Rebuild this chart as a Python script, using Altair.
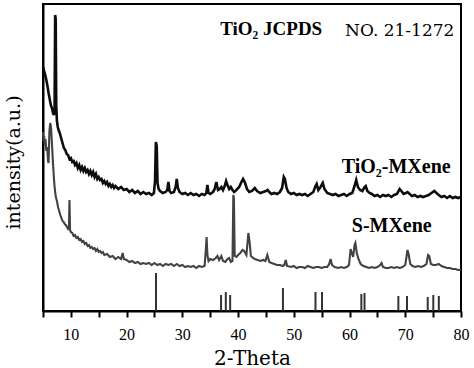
import altair as alt
import pandas as pd

# XRD patterns: (2-theta in degrees, intensity in a.u.)
tio2_mxene = [
    (5.0, 244), (5.2, 240), (5.4, 236), (5.6, 231), (5.8, 225), (6.0, 218), (6.2, 212),
    (6.4, 206), (6.6, 203), (6.8, 198), (6.95, 196), (7.08, 203), (7.18, 296), (7.28, 292),
    (7.38, 205), (7.5, 190), (7.65, 184), (7.8, 181), (8.0, 178), (8.25, 173), (8.5, 168),
    (8.75, 163), (9.0, 161), (9.25, 157), (9.5, 156), (9.75, 152), (10.0, 153), (10.25, 149),
    (10.5, 150), (10.75, 146), (11.0, 148), (11.25, 143), (11.5, 146), (11.75, 141),
    (12.0, 144), (12.25, 140), (12.5, 143), (12.75, 139), (13.0, 141), (13.25, 137),
    (13.5, 140), (13.75, 136), (14.0, 139), (14.25, 134), (14.5, 137), (14.75, 132),
    (15.0, 134), (15.25, 131), (15.5, 132), (15.75, 128), (16.0, 130), (16.25, 127),
    (16.5, 129), (16.75, 125), (17.0, 127), (17.25, 124), (17.5, 126), (17.75, 123),
    (18.0, 125), (18.5, 122), (19.0, 124), (19.5, 121), (20.0, 122), (20.5, 119),
    (21.0, 121), (21.5, 118), (22.0, 120), (22.5, 117), (23.0, 119), (23.5, 117),
    (24.0, 118), (24.5, 116), (24.9, 118), (25.1, 130), (25.25, 169), (25.4, 165),
    (25.55, 128), (25.75, 122), (26.0, 120), (26.5, 118), (27.0, 119), (27.3, 121),
    (27.5, 129), (27.7, 120), (28.0, 118), (28.5, 119), (28.8, 124), (29.0, 132),
    (29.2, 123), (29.5, 119), (30.0, 117), (30.5, 118), (31.0, 116), (31.5, 118),
    (32.0, 116), (32.5, 117), (33.0, 115), (33.5, 117), (34.0, 116), (34.3, 118),
    (34.5, 126), (34.7, 118), (35.0, 117), (35.5, 119), (35.8, 122), (36.1, 129),
    (36.4, 121), (36.7, 122), (37.0, 124), (37.3, 121), (37.6, 125), (37.85, 130),
    (38.1, 126), (38.4, 122), (38.7, 124), (39.0, 121), (39.3, 119), (39.7, 121),
    (40.2, 124), (40.6, 129), (40.9, 132), (41.2, 129), (41.6, 122), (42.0, 119),
    (42.5, 120), (43.0, 123), (43.4, 120), (44.0, 118), (44.5, 119), (45.0, 120),
    (45.3, 121), (45.6, 119), (46.0, 117), (46.5, 118), (47.0, 117), (47.5, 119),
    (47.9, 123), (48.2, 134), (48.4, 132), (48.7, 123), (49.0, 119), (49.5, 117),
    (50.0, 118), (50.5, 116), (51.0, 117), (51.5, 116), (52.0, 117), (52.5, 115),
    (53.0, 117), (53.5, 119), (53.9, 125), (54.1, 127), (54.4, 121), (54.8, 124),
    (55.2, 128), (55.5, 122), (56.0, 118), (56.5, 117), (57.0, 116), (57.5, 117),
    (58.0, 115), (58.5, 116), (59.0, 117), (59.5, 115), (60.0, 117), (60.5, 118),
    (60.9, 125), (61.2, 131), (61.5, 124), (61.9, 121), (62.3, 120), (62.7, 124),
    (62.9, 125), (63.2, 120), (63.6, 118), (64.0, 117), (64.5, 115), (65.0, 116),
    (65.5, 114), (66.0, 116), (66.5, 115), (67.0, 116), (67.5, 114), (68.0, 116),
    (68.5, 117), (69.0, 122), (69.3, 120), (69.7, 117), (70.1, 118), (70.4, 119),
    (70.8, 117), (71.2, 115), (71.7, 116), (72.2, 114), (72.7, 115), (73.2, 114),
    (73.7, 115), (74.2, 116), (74.7, 118), (75.2, 120), (75.6, 118), (76.0, 116),
    (76.5, 114), (77.0, 115), (77.5, 113), (78.0, 115), (78.5, 113), (79.0, 114),
    (79.5, 113), (80.0, 114),
]

s_mxene = [
    (5.0, 179), (5.1, 170), (5.2, 175), (5.3, 166), (5.45, 172), (5.6, 160), (5.75, 164),
    (5.9, 150), (6.0, 148), (6.15, 180), (6.3, 188), (6.45, 183), (6.6, 168), (6.75, 152),
    (6.9, 138), (7.05, 126), (7.2, 118), (7.35, 113), (7.5, 110), (7.7, 104), (7.9, 100),
    (8.1, 96), (8.3, 93), (8.5, 90), (8.7, 89), (8.9, 87), (9.1, 86), (9.3, 84), (9.5, 82),
    (9.65, 83), (9.75, 111), (9.85, 81), (10.0, 79), (10.25, 78), (10.5, 75), (10.75, 76),
    (11.0, 73), (11.25, 74), (11.5, 71), (11.75, 72), (12.0, 69), (12.25, 70), (12.5, 67),
    (12.75, 68), (13.0, 65), (13.25, 66), (13.5, 63), (13.75, 64), (14.0, 62), (14.25, 63),
    (14.5, 60), (14.75, 62), (15.0, 59), (15.25, 60), (15.5, 58), (15.75, 59), (16.0, 56),
    (16.5, 57), (17.0, 54), (17.5, 55), (18.0, 52), (18.5, 54), (19.0, 52), (19.3, 58),
    (19.5, 52), (20.0, 51), (20.5, 49), (21.0, 50), (21.5, 48), (22.0, 49), (22.5, 47),
    (23.0, 48), (23.5, 47), (24.0, 48), (24.5, 46), (25.0, 48), (25.5, 46), (26.0, 47),
    (26.5, 45), (27.0, 47), (27.5, 46), (28.0, 47), (28.5, 45), (29.0, 47), (29.5, 45),
    (30.0, 46), (30.5, 44), (31.0, 45), (31.5, 44), (32.0, 45), (32.5, 43), (33.0, 45),
    (33.5, 44), (34.0, 45), (34.2, 60), (34.35, 74), (34.5, 56), (34.7, 50), (35.0, 52),
    (35.5, 51), (36.0, 53), (36.3, 55), (36.6, 51), (37.0, 55), (37.3, 50), (37.7, 49),
    (38.1, 52), (38.4, 53), (38.7, 49), (39.0, 50), (39.15, 116), (39.25, 113), (39.4, 55),
    (39.7, 54), (40.0, 56), (40.4, 58), (40.8, 61), (41.1, 60), (41.5, 56), (41.85, 78),
    (42.05, 70), (42.3, 55), (42.7, 53), (43.0, 52), (43.5, 51), (44.0, 50), (44.5, 51),
    (44.9, 50), (45.25, 56), (45.6, 49), (46.0, 48), (46.5, 47), (47.0, 46), (47.5, 46),
    (48.0, 45), (48.3, 46), (48.55, 51), (48.8, 45), (49.5, 44), (50.0, 45), (50.5, 43),
    (51.0, 44), (51.5, 44), (52.0, 43), (52.5, 45), (53.0, 44), (53.5, 43), (54.0, 44),
    (54.5, 44), (55.0, 43), (55.5, 44), (56.0, 44), (56.35, 47), (56.6, 52), (56.85, 46),
    (57.3, 44), (58.0, 43), (58.5, 44), (59.0, 43), (59.5, 44), (59.9, 46), (60.2, 62),
    (60.4, 58), (60.65, 54), (60.9, 66), (61.05, 68), (61.3, 58), (61.6, 52), (62.0, 47),
    (62.5, 45), (63.0, 44), (63.5, 43), (64.0, 44), (64.5, 43), (65.0, 44), (65.5, 46),
    (65.75, 48), (66.0, 44), (66.5, 43), (67.0, 43), (67.5, 44), (68.0, 43), (68.5, 44),
    (69.0, 43), (69.5, 44), (70.0, 46), (70.4, 61), (70.6, 57), (70.9, 47), (71.3, 45),
    (71.8, 44), (72.3, 45), (72.8, 44), (73.3, 45), (73.8, 47), (74.1, 56), (74.3, 55),
    (74.6, 47), (75.0, 46), (75.5, 46), (76.0, 47), (76.5, 45), (77.0, 44), (77.5, 43),
    (78.0, 43), (78.5, 42), (79.0, 42), (79.5, 41), (80.0, 41),
]

# Anatase TiO2 reference lines (JCPDS No. 21-1272)
jcpds_theta = [25.28, 36.95, 37.80, 38.58, 48.05, 53.89, 55.06, 62.12, 62.69,
               68.76, 70.31, 74.03, 75.03, 76.02]
jcpds_height = [38, 16, 19, 16, 23, 19, 19, 17, 18, 15, 15, 14, 16, 15]

x_ticks = [5, 10, 15, 20, 25, 30, 35, 40, 45, 50, 55, 60, 65, 70, 75, 80]

tio2_df = pd.DataFrame(tio2_mxene, columns=["theta", "intensity"])
smx_df = pd.DataFrame(s_mxene, columns=["theta", "intensity"])
ref_df = pd.DataFrame({"theta": jcpds_theta, "intensity": jcpds_height,
                       "base": [0] * len(jcpds_theta)})

x_scale = alt.Scale(domain=[5, 80], nice=False, zero=False)
x_axis = alt.Axis(
    title="2-Theta", values=x_ticks,
    labelExpr="(datum.value % 10 == 0) ? ('' + datum.value) : ''",
    labelOverlap=False, labelBound=False, labelFlush=False,
)
x_enc = alt.X("theta:Q", scale=x_scale, axis=x_axis)

y_scale = alt.Scale(domain=[0, 307], nice=False, zero=True)
y_axis = alt.Axis(
    title="intensity(a.u.)", labels=False, ticks=False, grid=False,
    titleX=-30, titleY=158, titleAngle=270,
    titleAlign="center", titleBaseline="middle",
)
y_enc = alt.Y("intensity:Q", scale=y_scale, axis=y_axis)

tio2_line = alt.Chart(tio2_df).mark_line(color="#0d0d0d", strokeWidth=2.6).encode(
    x=x_enc, y=y_enc
)
smx_line = alt.Chart(smx_df).mark_line(color="#424242", strokeWidth=2.1).encode(
    x=x_enc, y=y_enc
)
ref_rules = alt.Chart(ref_df).mark_rule(color="#333333", strokeWidth=2).encode(
    x=x_enc, y=y_enc, y2="base:Q"
)

def label(text, theta, intensity, font, size, weight):
    return alt.Chart(pd.DataFrame({"t": [text], "theta": [theta], "intensity": [intensity]})).mark_text(
        align="left", baseline="alphabetic", font=font, fontSize=size,
        fontWeight=weight, color="black"
    ).encode(x=x_enc, y=y_enc, text="t:N")

labels = [
    label("TiO\u2082 JCPDS", 36.8, 276, "Liberation Serif", 19, "bold"),
    label("NO. 21-1272", 59.2, 275, "DejaVu Serif", 17, "normal"),
    label("TiO\u2082-MXene", 58.6, 138, "Liberation Serif", 20, "bold"),
    label("S-MXene", 60.4, 79, "Liberation Serif", 20, "bold"),
]

chart = alt.layer(tio2_line, smx_line, ref_rules, *labels).properties(
    width=418, height=307,
    autosize=alt.AutoSizeParams(type="none"),
    padding={"left": 43, "top": 4, "right": 13, "bottom": 57},
    background="white",
).configure_view(
    stroke="black", strokeWidth=2
).configure_axis(
    grid=False, domainColor="black", domainWidth=2,
    titleColor="black", titleFontWeight="normal",
    titleFont="DejaVu Serif", labelColor="black",
).configure_axisX(
    ticks=True, tickSize=6, tickWidth=2, tickColor="black",
    labelFont="Liberation Serif", labelFontSize=16, labelPadding=9,
    titleFontSize=20, titlePadding=6,
).configure_axisY(
    titleFontSize=19,
)

chart.save("out.html", embed_options={"renderer": "svg", "actions": False})
